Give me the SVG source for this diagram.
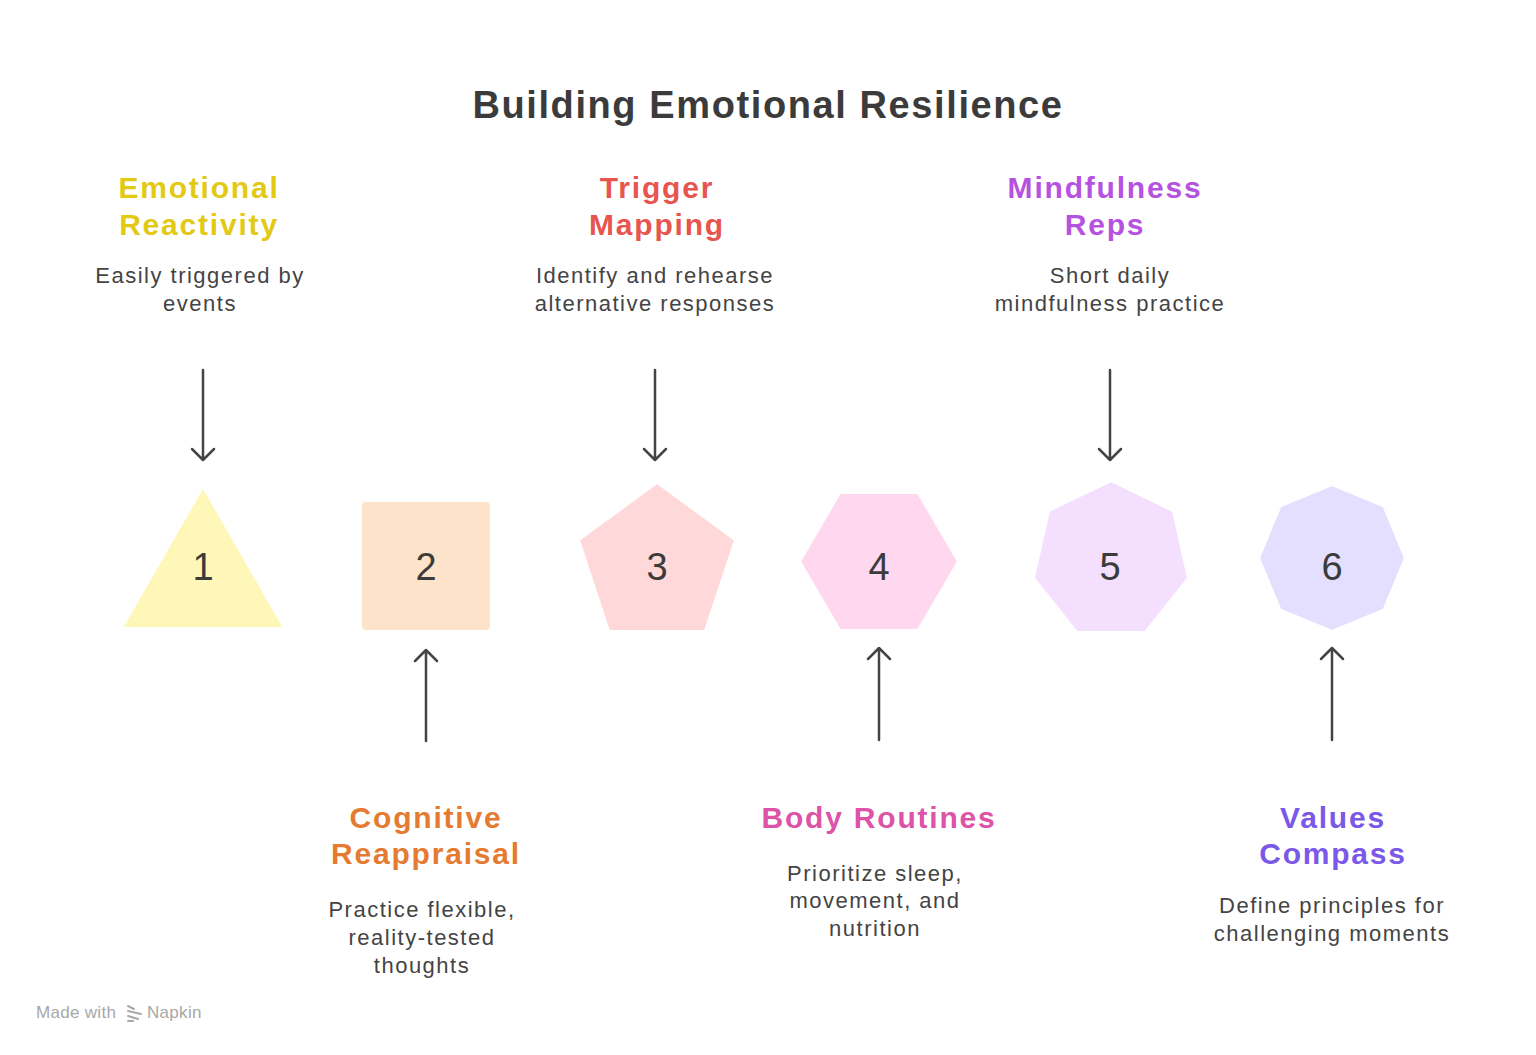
<svg xmlns="http://www.w3.org/2000/svg" width="1536" height="1055" viewBox="0 0 1536 1055">
<style>
.title{font-family:"Liberation Sans",Arial,sans-serif;font-weight:bold;font-size:38px;fill:#3b3b3b;text-anchor:middle;letter-spacing:1.6px}
.head{font-family:"Liberation Sans",Arial,sans-serif;font-weight:bold;font-size:30px;text-anchor:middle;letter-spacing:1.8px}
.desc{font-family:"Liberation Sans",Arial,sans-serif;font-size:22px;fill:#444;text-anchor:middle;letter-spacing:1.5px}
.num{font-family:"Liberation Sans",Arial,sans-serif;font-size:38px;fill:#3b3b3b;text-anchor:middle}
.shape{stroke:#ffffff;stroke-width:2;stroke-linejoin:round}
.conn{stroke:#444;stroke-width:2.5;fill:none;stroke-linecap:round;stroke-linejoin:round}
.wm{font-family:"Liberation Sans",Arial,sans-serif;font-size:17px;fill:#a8a8a8;letter-spacing:0.3px}
</style>
<rect width="1536" height="1055" fill="#ffffff"/>
<text class="title" x="768" y="118">Building Emotional Resilience</text>

<g id="connectors">
  <path class="conn" d="M203,370 V459 M192,449 L203,460 L214,449"/>
  <path class="conn" d="M655,370 V459 M644,449 L655,460 L666,449"/>
  <path class="conn" d="M1110,370 V459 M1099,449 L1110,460 L1121,449"/>
  <path class="conn" d="M426,741 V651 M415,661 L426,650 L437,661"/>
  <path class="conn" d="M879,740 V649 M868,659 L879,648 L890,659"/>
  <path class="conn" d="M1332,740 V649 M1321,659 L1332,648 L1343,659"/>
</g>

<g id="node1">
  <polygon class="shape" fill="#FFF7B8" points="203,487 284,628 122,628"/>
  <text class="num" x="203" y="580">1</text>
  <text class="head" x="199" y="198" fill="#E2C914">Emotional</text>
  <text class="head" x="199" y="235" fill="#E2C914">Reactivity</text>
  <text class="desc" x="200" y="283">Easily triggered by</text>
  <text class="desc" x="200" y="311">events</text>
</g>

<g id="node2">
  <rect class="shape" fill="#FDE3C9" x="361" y="501" width="130" height="130" rx="5"/>
  <text class="num" x="426" y="580">2</text>
  <text class="head" x="426" y="828" fill="#E47B30">Cognitive</text>
  <text class="head" x="426" y="864" fill="#E47B30">Reappraisal</text>
  <text class="desc" x="422" y="917">Practice flexible,</text>
  <text class="desc" x="422" y="945">reality-tested</text>
  <text class="desc" x="422" y="973">thoughts</text>
</g>

<g id="node3">
  <polygon class="shape" fill="#FFD9D9" points="657,483 735,540 705,631 609,631 579,540"/>
  <text class="num" x="657" y="580">3</text>
  <text class="head" x="657" y="198" fill="#E8554F">Trigger</text>
  <text class="head" x="657" y="235" fill="#E8554F">Mapping</text>
  <text class="desc" x="655" y="283">Identify and rehearse</text>
  <text class="desc" x="655" y="311">alternative responses</text>
</g>

<g id="node4">
  <polygon class="shape" fill="#FFD7EE" points="840,493 918,493 958,561.5 918,630 840,630 800,561.5"/>
  <text class="num" x="879" y="580">4</text>
  <text class="head" x="879" y="828" fill="#DC53A8">Body Routines</text>
  <text class="desc" x="875" y="881">Prioritize sleep,</text>
  <text class="desc" x="875" y="908">movement, and</text>
  <text class="desc" x="875" y="936">nutrition</text>
</g>

<g id="node5">
  <polygon class="shape" fill="#F4DFFF" points="1111,481 1173,511 1188,578 1145,632 1077,632 1034,578 1049,511"/>
  <text class="num" x="1110" y="580">5</text>
  <text class="head" x="1105" y="198" fill="#B552E0">Mindfulness</text>
  <text class="head" x="1105" y="235" fill="#B552E0">Reps</text>
  <text class="desc" x="1110" y="283">Short daily</text>
  <text class="desc" x="1110" y="311">mindfulness practice</text>
</g>

<g id="node6">
  <polygon class="shape" fill="#E5DFFF" points="1332,485 1383.6,506.4 1405,558 1383.6,609.6 1332,631 1280.4,609.6 1259,558 1280.4,506.4"/>
  <text class="num" x="1332" y="580">6</text>
  <text class="head" x="1333" y="828" fill="#7A58E8">Values</text>
  <text class="head" x="1333" y="864" fill="#7A58E8">Compass</text>
  <text class="desc" x="1332" y="913">Define principles for</text>
  <text class="desc" x="1332" y="941">challenging moments</text>
</g>

<g id="watermark">
  <text class="wm" x="36" y="1018">Made with</text>
  <g stroke="#a8a8a8" stroke-width="2" stroke-linecap="round">
    <line x1="128" y1="1006" x2="134" y2="1009"/>
    <line x1="128" y1="1011" x2="141" y2="1014"/>
    <line x1="128" y1="1016" x2="138" y2="1019"/>
    <line x1="128" y1="1021" x2="133" y2="1021"/>
  </g>
  <text class="wm" x="147" y="1018">Napkin</text>
</g>
</svg>
